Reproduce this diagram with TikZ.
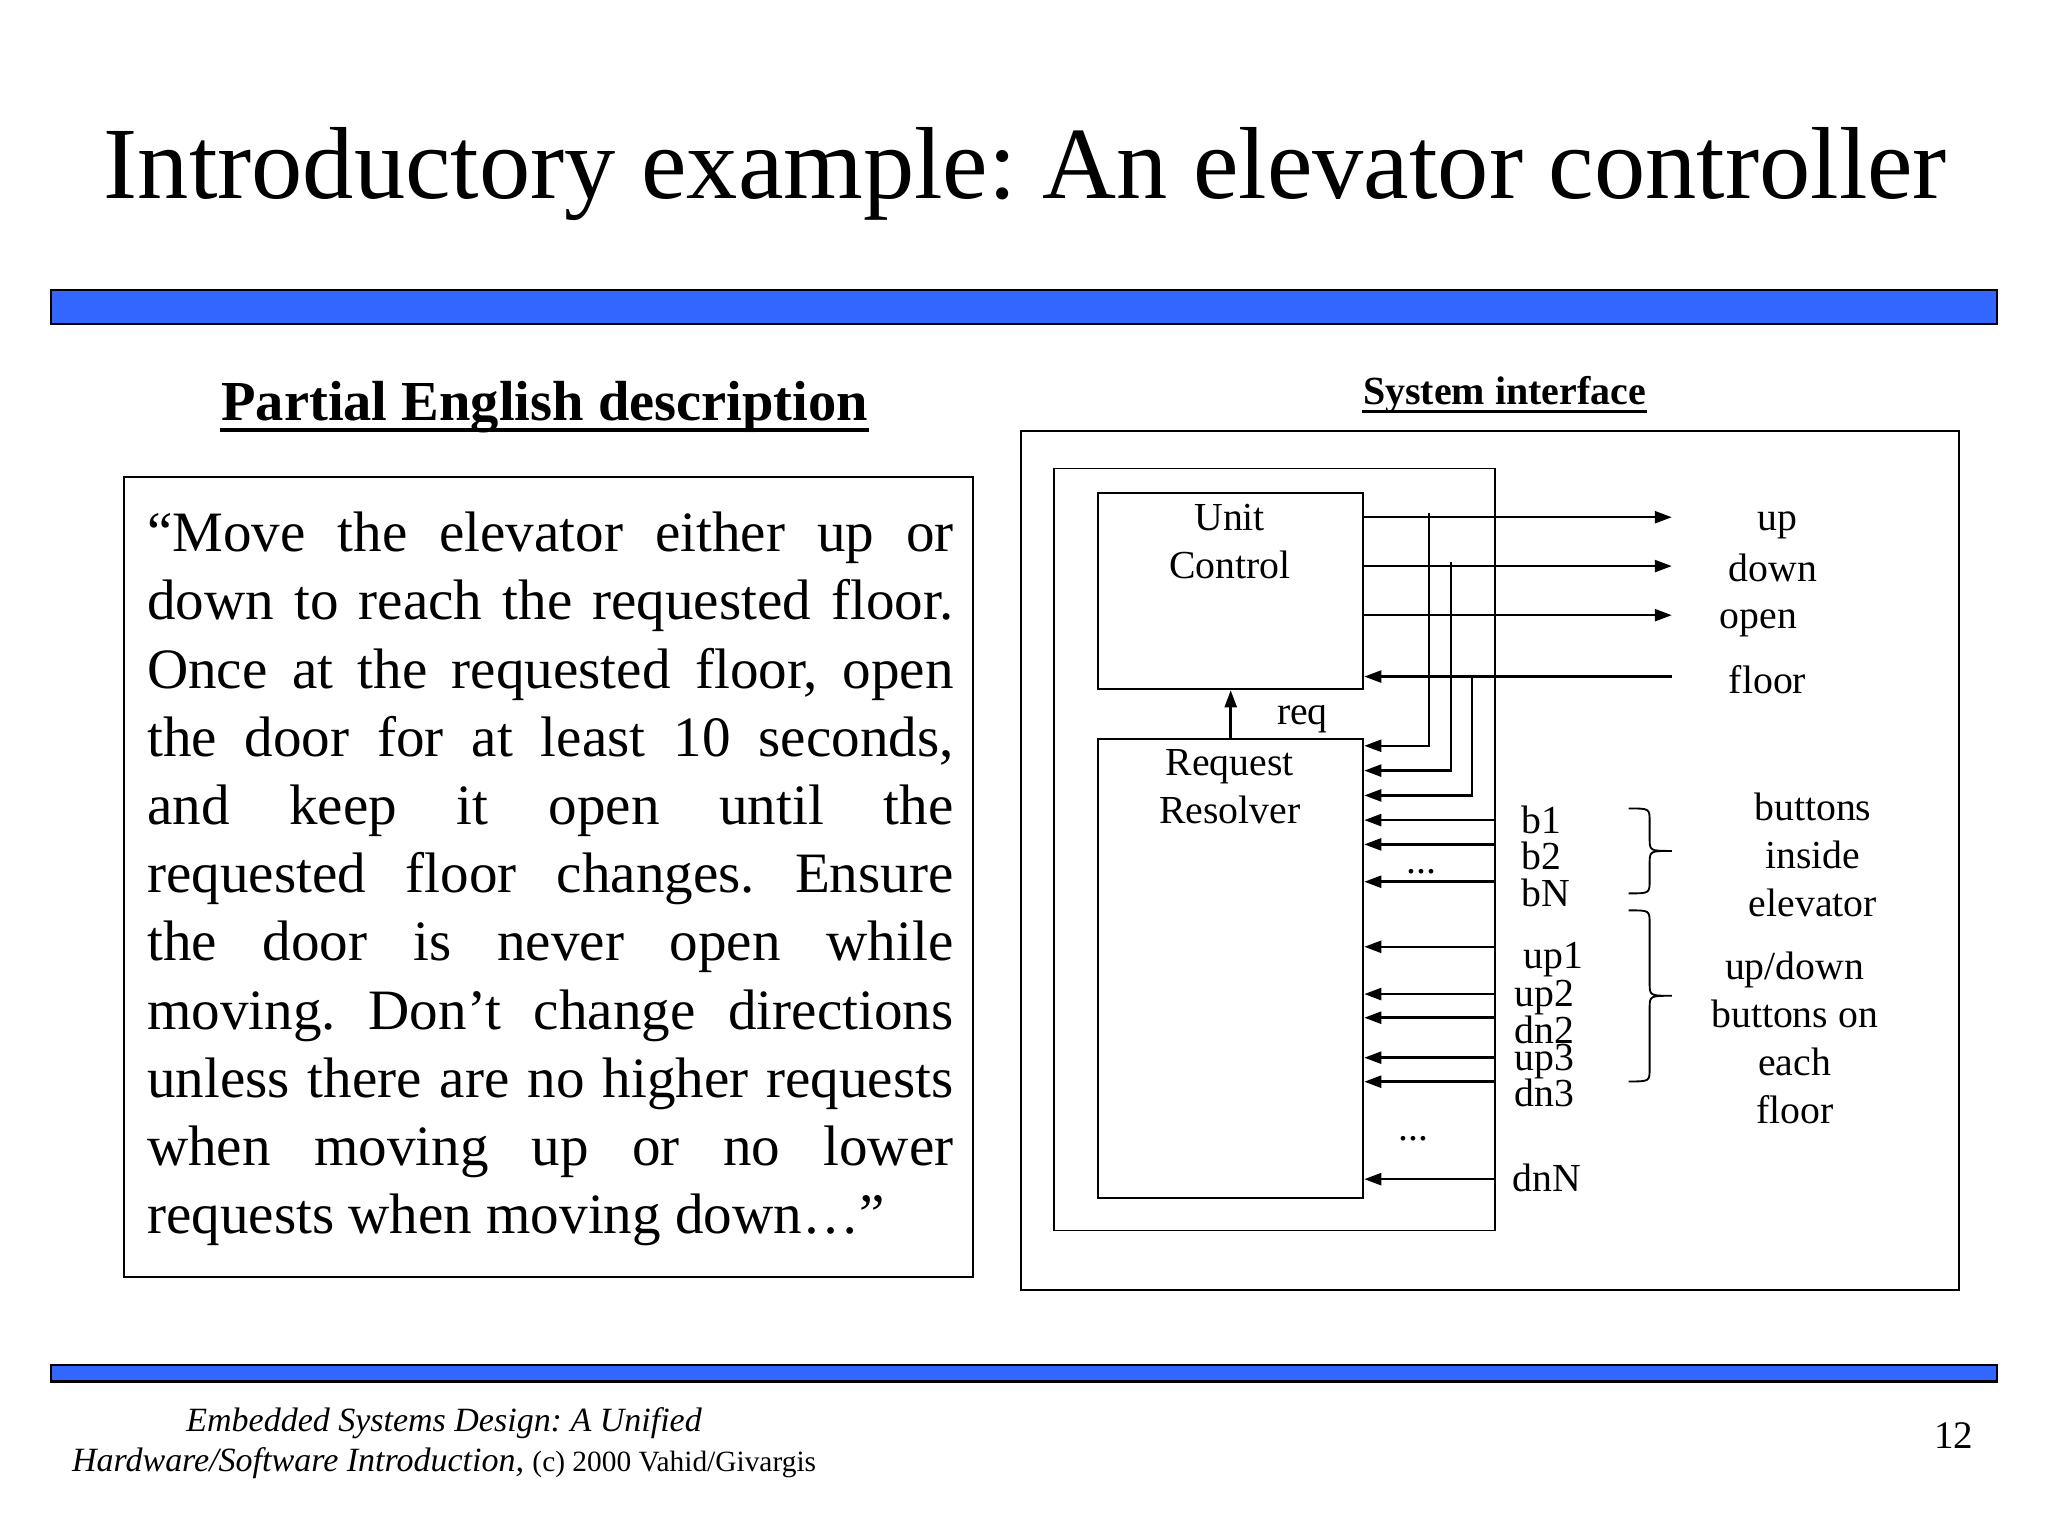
\documentclass[tikz,border=0pt]{standalone}
\usepackage{fontspec}
\setmainfont{Liberation Serif}
\usetikzlibrary{positioning,calc,arrows.meta}
\definecolor{BarBlue}{HTML}{3366FF}

\begin{document}
\frenchspacing
\begin{tikzpicture}[x=0.01cm, y=-0.01cm,
  bar/.style={draw=black, line width=0.6pt, fill=BarBlue},
  frame/.style={draw=black, line width=0.45pt},
  blk/.style={rectangle, draw=black, line width=0.4pt, inner sep=0pt, anchor=north west},
  lbl/.style={inner sep=0pt, font=\fontsize{8.65}{10.45}\selectfont},
  head/.style={inner sep=0pt, anchor=base, font=\bfseries},
  sig/.style={-{Triangle[length=3.7pt, width=2.6pt]}, line width=0.55pt},
  brc/.style={line width=0.4pt}
]

  % Page
  \useasboundingbox (0,0) rectangle (1568,1176);
  \fill[white] (0,0) rectangle (1568,1176);

  % Title and bars
  \node[inner sep=0pt, anchor=base, font=\fontsize{22.3}{26}\selectfont] (title) at (785,152) {Introductory example: An elevator controller};
  \draw[bar] (39,222) rectangle (1529,248);
  \draw[bar] (39,1045) rectangle (1529,1058);

  % Left: description
  \node[head, font=\fontsize{12.3}{14}\selectfont\bfseries] (desc) at (417,322) {Partial English description};
  \draw[line width=0.85pt] ([yshift=-2.1pt]desc.base west) -- ([yshift=-2.1pt]desc.base east);
  \draw[frame] (95,365) rectangle (745,978);
  \node[inner sep=0pt, anchor=base west, text width=6.17cm, align=justify,
        font=\fontsize{12.43}{14.85}\selectfont] (quote) at (112,422.4)
    {“Move the elevator either up or\linebreak
     down to reach the requested floor.\linebreak
     Once at the requested floor, open\linebreak
     the door for at least 10 seconds,\linebreak
     and keep it open until the\linebreak
     requested floor changes. Ensure\linebreak
     the door is never open while\linebreak
     moving. Don’t change directions\linebreak
     unless there are no higher requests\linebreak
     when moving up or no lower\linebreak
     requests when moving down…”};

  % Right: system interface
  \node[head, font=\fontsize{8.7}{10}\selectfont\bfseries] (sys) at (1152,310) {System interface};
  \draw[line width=0.6pt] ([yshift=-1.4pt]sys.base west) -- ([yshift=-1.4pt]sys.base east);
  \draw[frame] (782,330) rectangle (1500,988);

  \node[blk, minimum width=3.38cm, minimum height=5.83cm] (ctl) at (806,358) {};
  \node[blk, minimum width=2.03cm, minimum height=1.5cm] (uc) at (840,377) {};
  \node[blk, minimum width=2.03cm, minimum height=3.51cm] (rr) at (840,565) {};
  \node[lbl, align=center, anchor=base] (uctext) at (941.5,442.7) {Unit\\Control};
  \node[lbl, align=center, anchor=base] (rrtext) at (941.5,630.3) {Request\\Resolver};

  % Outputs and floor input
  \coordinate (upo) at (1280,396);
  \coordinate (dno) at (1280,433.4);
  \coordinate (opo) at (1280,471);
  \coordinate (flo) at (1280,518);
  \draw[sig] (uc.east |- upo) -- (upo);
  \draw[sig] (uc.east |- dno) -- (dno);
  \draw[sig] (uc.east |- opo) -- (opo);
  \draw[sig] (flo) -- (uc.east |- flo);
  \node[lbl, anchor=base west] (uplab) at (1345,406) {up};
  \node[lbl, anchor=base west] (dnlab) at (1323,445.4) {down};
  \node[lbl, anchor=base west] (oplab) at (1316,481) {open};
  \node[lbl, anchor=base west] (fllab) at (1323,531) {floor};

  % Feedback into the resolver
  \coordinate (tapup) at (1094,392.5);
  \coordinate (tapdn) at (1111,430.6);
  \coordinate (tapfl) at (1127,518);
  \draw[sig] (tapup) |- (rr.east |- 0,571);
  \draw[sig] (tapdn) |- (rr.east |- 0,590);
  \draw[sig] (tapfl) |- (rr.east |- 0,609);
  \draw[sig] (rr.north) -- (uc.south);
  \node[lbl, anchor=base west] (req) at (977,555) {req};

  % Button inputs
  \foreach \y in {627.9,646.5,675.1,724.9,761.1,779.2,809.8,828.2,902.8}
    \draw[sig] (ctl.east |- 0,\y) -- (rr.east |- 0,\y);
  \foreach \lab/\x/\y in {b1/1164/638, b2/1164/666, bN/1164/694, up1/1166/741.4,
                          up2/1158.7/770.8, dn2/1158.7/798.9, up3/1158.7/819.3,
                          dn3/1158.7/847.4, dnN/1157.5/912.5}
    \node[lbl, anchor=base west] (in-\lab) at (\x,\y) {\lab};
  \node[lbl, anchor=base] (dots1) at (1088,668.5) {...};
  \node[lbl, anchor=base] (dots2) at (1082,873.5) {...};

  % Braces
  \draw[brc] (1247,619) .. controls (1263,619) .. (1263,629) -- (1263,641.5)
    .. controls (1263,651.5) .. (1280,651.5) .. controls (1263,651.5) .. (1263,661.5)
    -- (1263,674) .. controls (1263,684) .. (1247,684);
  \draw[brc] (1247,697) .. controls (1263,697) .. (1263,707) -- (1263,752.4)
    .. controls (1263,762.4) .. (1280,762.4) .. controls (1263,762.4) .. (1263,772.4)
    -- (1263,818) .. controls (1263,828) .. (1247,828);
  \node[lbl, align=center, anchor=base] (inside) at (1388,701.4) {buttons\\inside\\elevator};
  \node[lbl, align=center, anchor=base] (floors) at (1374,860.1) {up/down\\buttons on\\each\\floor};

  % Footer
  \node[inner sep=0pt, align=center, anchor=base, font=\fontsize{7.4}{8.8}\selectfont\itshape] (book) at (340,1127)
    {Embedded Systems Design: A Unified\\Hardware/Software Introduction, {\upshape\fontsize{6.4}{8.8}\selectfont (c) 2000 Vahid/Givargis}};
  \node[inner sep=0pt, anchor=base, font=\fontsize{8.5}{10}\selectfont] (page) at (1496,1109) {12};

\end{tikzpicture}
\end{document}
